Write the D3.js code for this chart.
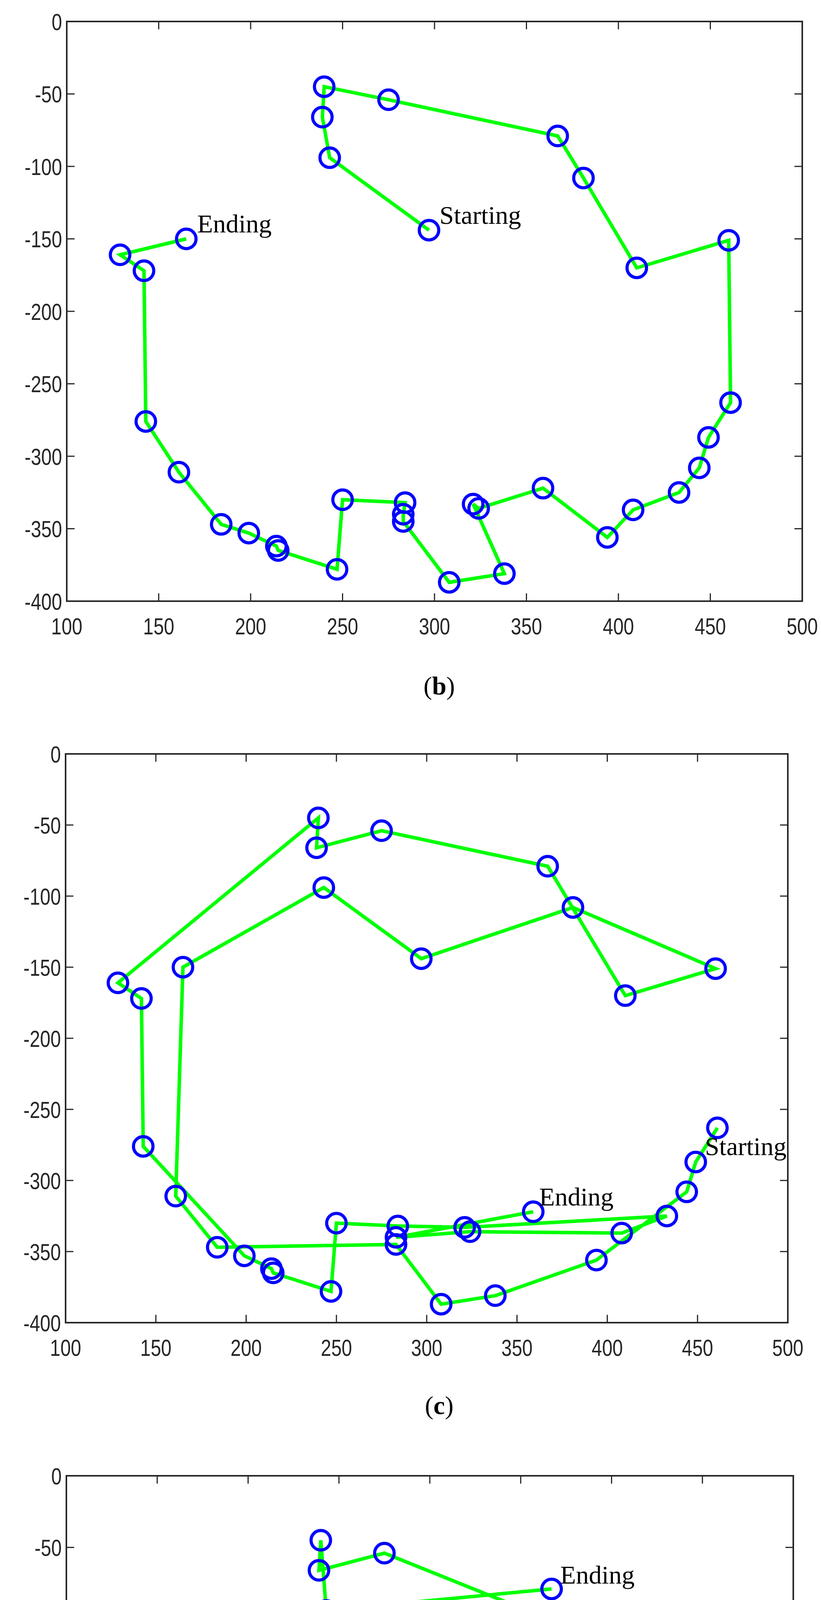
<!DOCTYPE html>
<html><head><meta charset="utf-8">
<script src="https://cdn.jsdelivr.net/npm/d3@7"></script>
<style>body{margin:0;background:#fff}</style></head>
<body><svg id="c" width="2103" height="5525"></svg>
<script>
const xTicks=[100,150,200,250,300,350,400,450,500];
const yTicks=[0,-50,-100,-150,-200,-250,-300,-350,-400];
const cities=[[240,-45],[275,-54],[367,-79],[381,-108],[410,-170],[460,-151],[461,-263],[449,-287],[444,-308],[433,-325],[408,-337],[394,-356],[359,-322],[324,-336],[321,-333],[338,-381],[308,-387],[283,-345],[283,-340],[284,-332],[250,-330],[247,-378],[215,-365],[214,-362],[199,-353],[184,-347],[161,-311],[143,-276],[142,-172],[129,-161],[165,-150],[297,-144],[243,-94],[239,-66]];
const tourB=[[297,-144],[243,-94],[239,-66],[240,-45],[275,-54],[367,-79],[381,-108],[410,-170],[460,-151],[461,-263],[449,-287],[444,-308],[433,-325],[408,-337],[394,-356],[359,-322],[324,-336],[321,-333],[338,-381],[308,-387],[283,-345],[283,-340],[284,-332],[250,-330],[247,-378],[215,-365],[214,-362],[199,-353],[184,-347],[161,-311],[143,-276],[142,-172],[129,-161],[165,-150]];
const tourC=[[461,-263],[449,-287],[444,-308],[394,-356],[338,-381],[308,-387],[283,-345],[184,-347],[161,-311],[165,-150],[243,-94],[297,-144],[381,-108],[460,-151],[410,-170],[367,-79],[275,-54],[239,-66],[240,-45],[129,-161],[142,-172],[143,-276],[199,-353],[214,-362],[215,-365],[247,-378],[250,-330],[284,-332],[321,-333],[433,-325],[408,-337],[324,-336],[283,-340],[359,-322]];
const tourD=[[461,-263],[250,-330],[284,-332],[214,-362],[324,-336],[408,-337],[394,-356],[410,-170],[297,-144],[460,-151],[338,-381],[308,-387],[215,-365],[283,-340],[199,-353],[184,-347],[247,-378],[283,-345],[321,-333],[359,-322],[433,-325],[449,-287],[444,-308],[143,-276],[161,-311],[142,-172],[129,-161],[165,-150],[381,-108],[275,-54],[239,-66],[240,-45],[243,-94],[367,-79]];
const panels=[
 {tour:tourB,label:"b",top:55,bottom:1539,left:171,right:2055,ly:1778,sdx:27,sdy:-16,edx:28,edy:-17},
 {tour:tourC,label:"c",top:1930,bottom:3386,left:168,right:2018,ly:3620,sdx:-32,sdy:70,edx:15,edy:-16},
 {tour:tourD,label:"d",top:3778,bottom:5245,left:170,right:2032,ly:5480,sdx:23,sdy:-15,edx:22,edy:-14}
];
const svg=d3.select("#c");
const K=0.8;
panels.forEach(p=>{
 const x=d3.scaleLinear().domain([100,500]).range([p.left,p.right]);
 const y=d3.scaleLinear().domain([0,-400]).range([p.top,p.bottom]);
 const g=svg.append("g");
 const tl=20;
 xTicks.forEach(t=>{
  g.append("line").attr("x1",x(t)).attr("x2",x(t)).attr("y1",p.top).attr("y2",p.top+tl).attr("stroke","#262626").attr("stroke-width",3);
  g.append("line").attr("x1",x(t)).attr("x2",x(t)).attr("y1",p.bottom).attr("y2",p.bottom-tl).attr("stroke","#262626").attr("stroke-width",3);
  g.append("text").attr("x",x(t)/K).attr("y",p.bottom+85).attr("text-anchor","middle").attr("font-family","Liberation Sans, Arial").attr("font-size",60).attr("fill","#262626").attr("transform",`scale(${K},1)`).text(t);
 });
 yTicks.forEach(t=>{
  g.append("line").attr("x1",p.left).attr("x2",p.left+tl).attr("y1",y(t)).attr("y2",y(t)).attr("stroke","#262626").attr("stroke-width",3);
  g.append("line").attr("x1",p.right).attr("x2",p.right-tl).attr("y1",y(t)).attr("y2",y(t)).attr("stroke","#262626").attr("stroke-width",3);
  g.append("text").attr("x",(p.left-12)/K).attr("y",y(t)+22).attr("text-anchor","end").attr("font-family","Liberation Sans, Arial").attr("font-size",60).attr("fill","#262626").attr("transform",`scale(${K},1)`).text(t);
 });
 g.append("rect").attr("x",p.left).attr("y",p.top).attr("width",p.right-p.left).attr("height",p.bottom-p.top).attr("fill","none").attr("stroke","#262626").attr("stroke-width",4);
 g.append("path").datum(p.tour).attr("d",d3.line().x(d=>x(d[0])).y(d=>y(d[1]))).attr("fill","none").attr("stroke","#00ff00").attr("stroke-width",9).attr("stroke-linejoin","miter");
 g.selectAll("circle").data(cities).join("circle").attr("cx",d=>x(d[0])).attr("cy",d=>y(d[1])).attr("r",25).attr("fill","none").attr("stroke","#0000ff").attr("stroke-width",8);
 const s=p.tour[0], e=p.tour[p.tour.length-1];
 g.append("text").attr("x",x(s[0])+p.sdx).attr("y",y(s[1])+p.sdy).attr("font-family","Liberation Serif, Times New Roman").attr("font-size",66).text("Starting");
 g.append("text").attr("x",x(e[0])+p.edx).attr("y",y(e[1])+p.edy).attr("font-family","Liberation Serif, Times New Roman").attr("font-size",66).text("Ending");
 const t=g.append("text").attr("x",1125).attr("y",p.ly).attr("text-anchor","middle").attr("font-family","Liberation Serif, Times New Roman").attr("font-size",66);
 t.append("tspan").text("(");t.append("tspan").attr("font-weight","bold").text(p.label);t.append("tspan").text(")");
});
</script></body></html>
